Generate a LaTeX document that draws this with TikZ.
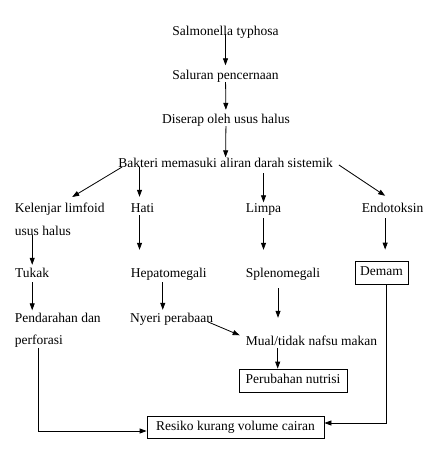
\documentclass[tikz,border=0pt]{standalone}
\usepackage{fontspec}
\setmainfont{Liberation Serif}
\usetikzlibrary{arrows.meta}

\begin{document}
\begin{tikzpicture}[x=1pt, y=-1pt]
						\tikzstyle{txt}=[
						inner sep=0pt,
						text height=9.5pt,
						text depth=3pt,
						font=\fontsize{13.5}{22.5}\selectfont
						]
						\tikzstyle{txtlines}=[
						inner sep=0pt,
						align=left,
						anchor=north west,
						font=\fontsize{13.5}{22.5}\selectfont
						]
						\tikzstyle{boxed}=[
						draw,
						line width=0.8pt,
						inner sep=0pt,
						text height=9.5pt,
						text depth=3pt,
						minimum height=23pt,
						font=\fontsize{13.5}{22.5}\selectfont
						]
						\tikzstyle{arr}=[-{Triangle[length=7pt,width=5pt]}, line width=0.8pt]
						\useasboundingbox (0,0) rectangle (431,461);
						%
						\node[txt, anchor=base] (salmonella) at (225.5,35) {Salmonella typhosa};
						\node[txt, anchor=base] (saluran) at (225.5,79) {Saluran pencernaan};
						\node[txt, anchor=base] (diserap) at (226,123) {Diserap oleh usus halus};
						\node[txt, anchor=base] (bakteri) at (225.5,167) {Bakteri memasuki aliran darah sistemik};
						%
						\node[txtlines] (kel) at (14.7,202.8) {Kelenjar limfoid\\usus halus};
						\node[txt, anchor=base west] (hati) at (130.7,212) {Hati};
						\node[txt, anchor=base west] (limpa) at (245.7,212) {Limpa};
						\node[txt, anchor=base west] (endo) at (361.7,212) {Endotoksin};
						%
						\node[txt, anchor=base west] (tukak) at (15,277) {Tukak};
						\node[txt, anchor=base west] (hepato) at (130.7,277) {Hepatomegali};
						\node[txt, anchor=base west] (spleno) at (245.7,277) {Splenomegali};
						\node[boxed, minimum width=53pt] (demam) at (381.5,272.5) {Demam};
						%
						\node[txtlines] (pend) at (14.7,312.8) {Pendarahan dan\\perforasi};
						\node[txt, anchor=base west] (nyeri) at (130,322) {Nyeri perabaan};
						\node[txt, anchor=base west] (mual) at (245.7,345) {Mual/tidak nafsu makan};
						\node[boxed, minimum width=108pt] (perub) at (293,380.5) {Perubahan nutrisi};
						\node[boxed, minimum width=177pt, minimum height=22pt] (resiko) at (235.5,427) {Resiko kurang volume cairan};
						%
						\draw[arr, shorten <=-4pt, shorten >=4pt] (salmonella) -- (saluran);
						\draw[arr, shorten >=3.5pt] (saluran) -- (diserap);
						\draw[arr] (diserap) -- (bakteri);
						%
						\draw[arr] ([xshift=4pt]bakteri.base west) -- ([xshift=12.5pt,yshift=5.8pt]kel.north);
						\draw[arr, shorten >=5.5pt] ([xshift=-3pt]hati.north |- bakteri.base) -- ([xshift=-3pt]hati.north);
						\draw[arr, shorten <=3pt] (bakteri.south -| limpa.north) -- (limpa.north);
						\draw[arr] ([xshift=6pt,yshift=2pt]bakteri.base east) -- ([xshift=-7.5pt,yshift=6.5pt]endo.north);
						%
						\draw[arr, shorten >=2.5pt] (kel.south -| tukak.north) -- (tukak.north);
						\draw[arr, shorten >=17.5pt] ([xshift=-3pt]hati.south) -- ([xshift=-3pt]hati.south |- hepato.north);
						\draw[arr, shorten <=3pt, shorten >=17.5pt] (limpa.south) -- (limpa.south |- spleno.north);
						\draw[arr, shorten <=3pt, shorten >=11pt] ([xshift=-7.5pt]endo.south) -- ([xshift=-7.5pt]endo.south |- demam.north);
						%
						\draw[arr, shorten <=2pt, shorten >=2.5pt] (tukak.south) -- (tukak.south |- pend.north);
						\draw[arr, shorten <=2pt, shorten >=2.5pt] ([xshift=-6pt]hepato.south) -- ([xshift=-6pt]hepato.south |- nyeri.north);
						\draw[arr, shorten <=8pt, shorten >=17.5pt] ([xshift=-5pt]spleno.south) -- ([xshift=-5pt]spleno.south |- mual.north);
						\draw[arr] ([xshift=-5pt]nyeri.base east) -- ([xshift=-6pt]mual.north west);
						\draw[arr] ([xshift=32pt]mual.south west) -- ([xshift=32pt]mual.south west |- perub.north);
						%
						\draw[arr] ([xshift=24pt]pend.south west) |- ([yshift=-4pt]resiko.west);
						\draw[arr] ([xshift=4.5pt]demam.south) |- ([yshift=4pt]resiko.east);
					\end{tikzpicture}
\end{document}
